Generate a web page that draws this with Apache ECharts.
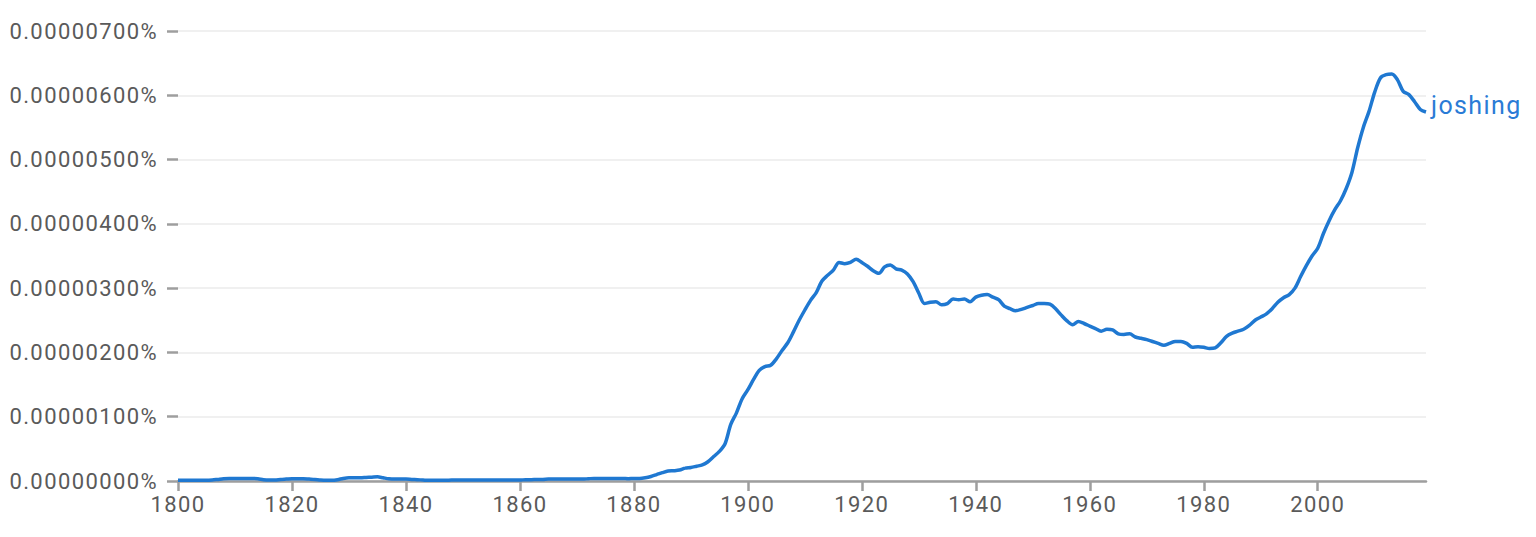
<!DOCTYPE html>
<html>
<head>
<meta charset="utf-8">
<script src="https://cdn.jsdelivr.net/npm/echarts@6/dist/echarts.min.js"></script>
<style>
html,body{margin:0;padding:0;background:#fff;}
#chart{width:1536px;height:537px;}
#chart svg text{letter-spacing:1.4px;}
</style>
</head>
<body>
<div id="chart"></div>
<script>
// Values in units of 1e-8 percent (i.e. 100 = 0.00000100%)
const startYear = 1800;
const endYear = 2019;
const seriesName = 'joshing';
const values1800s = [1,1,1,1,1,1,1.5,2.5,3.5,4];
const values1810s = [4,4,4,4,3.5,2,1.5,1.5,2.5,3];
const values1820s = [3.5,3.5,3.5,3,2.5,1.5,1,1,2,4];
const values1830s = [5,5,5,5.5,6,6.5,5,3.5,3,3];
const values1840s = [3,2.5,2,1.5,1,1,1,1,1.5,1.5];
const values1850s = [1.5,1.5,1.5,1.5,1.5,1.5,1.5,1.5,1.5,1.5];
const values1860s = [1.5,2,2,2.5,2.5,3,3,3,3,3];
const values1870s = [3,3,3.5,4,4,4,4,4,4,3.5];
const values1880s = [4,4,5,7,10,13,15.5,16,17,20];
const values1890s = [21,23,25,30,38,46,58,88,106,128];
const values1900s = [142,158,172,178,180,190,203,215,232,250];
const values1910s = [266,281,293,311,320,328,340,338,340,345];
const values1920s = [340,334,327,323,333,336,330,328,322,310];
const values1930s = [292,276,278,279,274,276,283,282,283,279];
const values1940s = [286,289,290,286,282,272,268,265,267,270];
const values1950s = [273,276,276,275,268,258,249,243,248,245];
const values1960s = [241,237,233,236,235,229,228,229,224,222];
const values1970s = [220,217,214,211,214,217,217,214,208,209];
const values1980s = [208,206,207,215,225,230,233,236,242,250];
const values1990s = [255,260,268,278,285,290,300,318,335,350];
const values2000s = [362,385,405,422,436,455,480,518,550,575];
const values2010s = [605,627,632,633,624,606,601,590,578,574];

const xTickValues = [1800,1820,1840,1860,1880,1900,1920,1940,1960,1980,2000];
const yTickValues = [0,100,200,300,400,500,600,700];
const yTickLabels = ['0.00000000%','0.00000100%','0.00000200%','0.00000300%','0.00000400%','0.00000500%','0.00000600%','0.00000700%'];

const allValues = [].concat(values1800s,values1810s,values1820s,values1830s,values1840s,values1850s,
  values1860s,values1870s,values1880s,values1890s,values1900s,values1910s,values1920s,values1930s,
  values1940s,values1950s,values1960s,values1970s,values1980s,values1990s,values2000s,values2010s);
const points = allValues.map((v,i)=>[startYear+i, v]);

const chart = echarts.init(document.getElementById('chart'), null, {renderer:'svg'});
const font = 'Roboto, "Noto Sans", sans-serif';
chart.setOption({
  animation:false,
  grid:{left:178,right:110,top:31,bottom:56,containLabel:false},
  xAxis:{
    type:'value', min:startYear, max:endYear,
    axisLine:{show:true,lineStyle:{color:'#9e9e9e',width:2.5}},
    axisTick:{show:true,length:10,lineStyle:{color:'#9e9e9e',width:2.5},customValues:xTickValues},
    axisLabel:{customValues:xTickValues,color:'#5a5a5a',fontSize:22,fontFamily:font,margin:12,
      formatter:v=>String(v)},
    splitLine:{show:false}
  },
  yAxis:{
    type:'value', min:0, max:700, interval:100,
    axisLine:{show:false},
    axisTick:{show:true,length:11,lineStyle:{color:'#9e9e9e',width:2.5}},
    axisLabel:{color:'#5a5a5a',fontSize:22,fontFamily:font,margin:20,
      formatter:v=>{const i=yTickValues.indexOf(Math.round(v));return i>=0?yTickLabels[i]:'';}},
    splitLine:{show:true,lineStyle:{color:'#f0f0f0',width:2}}
  },
  series:[{
    name:seriesName, type:'line', data:points, smooth:0.3, showSymbol:false,
    lineStyle:{color:'#1f78d1',width:3.5}, itemStyle:{color:'#1f78d1'},
    endLabel:{show:true,formatter:seriesName,color:'#2a7bd6',fontSize:25,fontFamily:font,distance:5,offset:[0,-7]}
  }]
});
</script>
</body>
</html>
